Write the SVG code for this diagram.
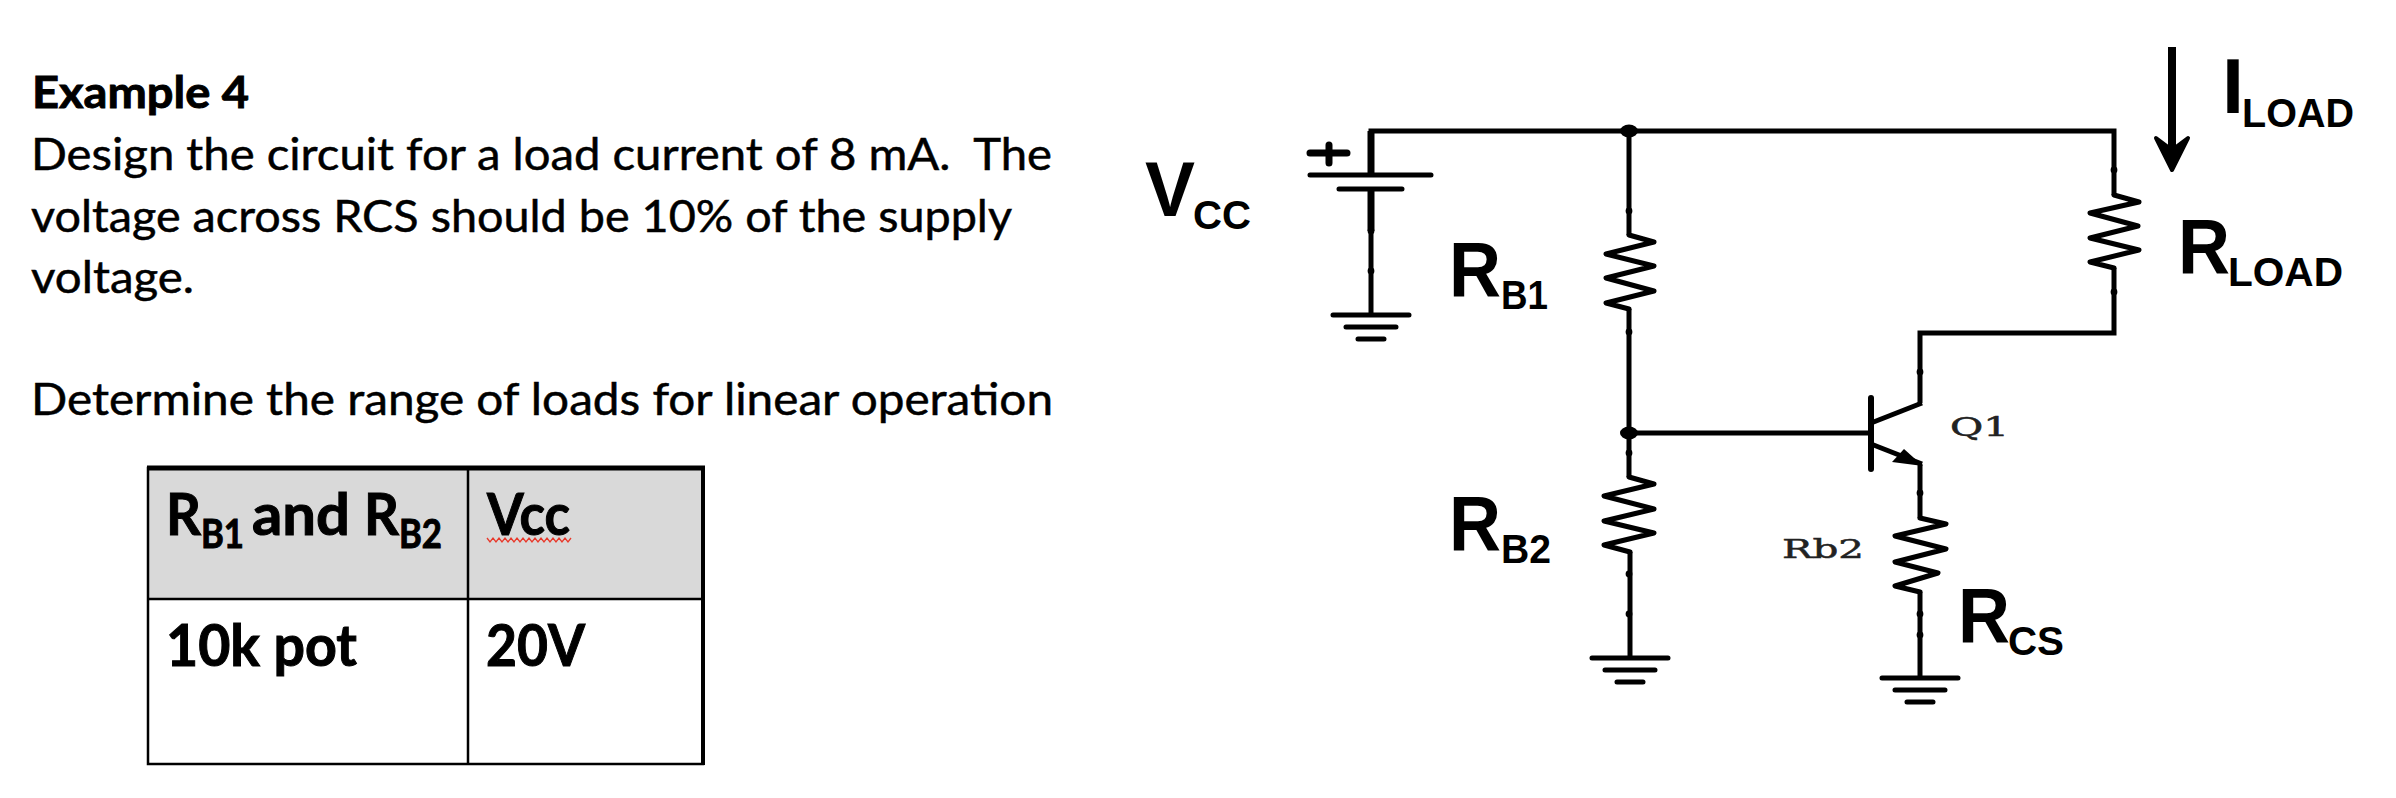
<svg xmlns="http://www.w3.org/2000/svg" width="2396" height="798" viewBox="0 0 2396 798">
<style>
.body{font-family:"Lato","Open Sans",sans-serif;font-size:44px;fill:#000;stroke:#000;stroke-width:.5;white-space:pre}
.bold{font-weight:700;stroke-width:.9}
.cell{font-family:"Lato","Open Sans",sans-serif;font-size:57px;font-weight:700;fill:#000;stroke:#000;stroke-width:1}
.sub{font-size:40px}
.lab{font-family:"Liberation Sans",Arial,sans-serif;font-weight:700;font-size:77px;fill:#000}
.ls{font-size:41px}
.ser{font-family:"DejaVu Serif","Liberation Serif",serif;font-size:26px;fill:#222;stroke:#222;stroke-width:.5}
.w{fill:none;stroke:#000;stroke-width:5;stroke-linejoin:miter}
.g{fill:none;stroke:#000;stroke-width:5;stroke-linecap:round}
.z{fill:none;stroke:#000;stroke-width:5;stroke-linejoin:round;stroke-linecap:round}
.j{fill:#000}
</style>
<defs><circle id="blip" r="3.4" class="j"/><ellipse id="dot" rx="9" ry="6.5" class="j"/>
<g id="gnd"><path class="g" d="M-38 0H38M-25 12H25M-13 24H13"/></g></defs>

<g id="problem-text">
<text class="body bold" x="32" y="108" textLength="217" lengthAdjust="spacingAndGlyphs">Example 4</text>
<text class="body" x="31" y="170" textLength="1021" lengthAdjust="spacingAndGlyphs">Design the circuit for a load current of 8 mA.  The</text>
<text class="body" x="31" y="232" textLength="981" lengthAdjust="spacingAndGlyphs">voltage across RCS should be 10% of the supply</text>
<text class="body" x="31" y="293" textLength="163" lengthAdjust="spacingAndGlyphs">voltage.</text>
<text class="body" x="31" y="415" textLength="1022" lengthAdjust="spacingAndGlyphs">Determine the range of loads for linear operation</text>
</g>

<g id="table">
<rect x="148" y="468" width="555" height="131" fill="#d9d9d9"/>
<rect x="148" y="468" width="555" height="296" fill="none" stroke="#000" stroke-width="2.5"/>
<path d="M147 468H705" stroke="#000" stroke-width="5"/>
<path d="M703 466V765" stroke="#000" stroke-width="4"/>
<path d="M468 468V764M148 599H703" stroke="#000" stroke-width="2.5" fill="none"/>
<text class="cell" x="166" y="535" textLength="35" lengthAdjust="spacingAndGlyphs">R</text>
<text class="cell sub" x="201" y="548" textLength="43" lengthAdjust="spacingAndGlyphs">B1</text>
<text class="cell" x="252" y="535" textLength="98" lengthAdjust="spacingAndGlyphs">and</text>
<text class="cell" x="364" y="535" textLength="35" lengthAdjust="spacingAndGlyphs">R</text>
<text class="cell sub" x="399" y="548" textLength="43" lengthAdjust="spacingAndGlyphs">B2</text>
<text class="cell" x="487" y="535" textLength="83" lengthAdjust="spacingAndGlyphs">Vcc</text>
<path d="M487 538l3 4 3-4 3 4 3-4 3 4 3-4 3 4 3-4 3 4 3-4 3 4 3-4 3 4 3-4 3 4 3-4 3 4 3-4 3 4 3-4 3 4 3-4 3 4 3-4 3 4 3-4 3 4 3-4" fill="none" stroke="#e8392b" stroke-width="1.3"/>
<text class="cell" x="166" y="666" textLength="191" lengthAdjust="spacingAndGlyphs">10k pot</text>
<text class="cell" x="486" y="666" textLength="99" lengthAdjust="spacingAndGlyphs">20V</text>
</g>

<g id="connectors">
<path class="w" d="M1371 175V131H2114V195"/>
<path class="w" d="M1371 189V315"/>
<path class="w" d="M1629 131V235"/>
<path class="w" d="M1629 309V477"/>
<path class="w" d="M1630 552V658"/>
<path class="w" d="M1629 433H1871"/>
<path class="w" d="M2114 268V333H1920V403"/>
<path class="w" d="M1920 464V518"/>
<path class="w" d="M1920 592V678"/>
<use href="#blip" x="1371" y="231"/><use href="#blip" x="1371" y="271"/>
<use href="#blip" x="1629" y="211"/><use href="#blip" x="1629" y="332"/>
<use href="#blip" x="1629" y="453"/><use href="#blip" x="1629" y="574"/><use href="#blip" x="1629" y="614"/>
<use href="#blip" x="2114" y="170"/><use href="#blip" x="2114" y="292"/>
<use href="#blip" x="1920" y="372"/><use href="#blip" x="1920" y="493"/>
<use href="#blip" x="1920" y="614"/><use href="#blip" x="1920" y="635"/>
<use href="#dot" x="1629" y="131"/><use href="#dot" x="1629" y="433"/>
</g>

<g id="battery">
<path d="M1371 131V175" stroke="#000" stroke-width="7"/>
<path d="M1371 189V231" stroke="#000" stroke-width="7"/>
<path class="g" d="M1310 175H1431M1339 189H1402"/>
<path fill="none" stroke="#000" stroke-width="7" stroke-linecap="round" d="M1310 153H1347M1329 145V163"/>
<use href="#gnd" transform="translate(1371 315)"/>
<text class="lab" x="1145" y="216" textLength="50" lengthAdjust="spacingAndGlyphs">V</text>
<text class="lab ls" x="1193" y="229" textLength="58" lengthAdjust="spacingAndGlyphs">CC</text>
</g>

<g id="rb1">
<path class="z" d="M1629 235L1654 242 1606 254 1654 266 1606 278 1654 291 1606 303 1629 309"/>
<text class="lab" x="1449" y="296" textLength="52" lengthAdjust="spacingAndGlyphs">R</text>
<text class="lab ls" x="1501" y="309" textLength="47" lengthAdjust="spacingAndGlyphs">B1</text>
</g>

<g id="rb2">
<path class="z" d="M1629 477L1654 484 1604 496 1654 509 1604 521 1654 533 1604 545 1630 552"/>
<use href="#gnd" transform="translate(1630 658)"/>
<text class="lab" x="1449" y="550" textLength="52" lengthAdjust="spacingAndGlyphs">R</text>
<text class="lab ls" x="1501" y="563" textLength="50" lengthAdjust="spacingAndGlyphs">B2</text>
</g>

<g id="rload">
<path class="z" d="M2114 195L2139 202 2090 213 2138 226 2090 238 2139 250 2090 262 2114 268"/>
<text class="lab" x="2178" y="273" textLength="52" lengthAdjust="spacingAndGlyphs">R</text>
<text class="lab ls" x="2228" y="286" textLength="115" lengthAdjust="spacingAndGlyphs">LOAD</text>
</g>

<g id="iload">
<path d="M2172 47V150" stroke="#000" stroke-width="8" fill="none"/>
<path d="M2156 138L2172 170 2188 138 2172 150Z" fill="#000" stroke="#000" stroke-width="4" stroke-linejoin="round"/>
<text class="lab" x="2222" y="113" textLength="22" lengthAdjust="spacingAndGlyphs">I</text>
<text class="lab ls" x="2242" y="127" textLength="112" lengthAdjust="spacingAndGlyphs">LOAD</text>
</g>

<g id="q1">
<path d="M1871 398V469" stroke="#000" stroke-width="6" stroke-linecap="round"/>
<path class="w" d="M1871 423L1922 403"/>
<path class="w" d="M1871 444L1922 464"/>
<path d="M1904 449L1892 462 1923 466Z" fill="#000"/>
<text class="ser" x="1950" y="436" textLength="59" lengthAdjust="spacingAndGlyphs">Q1</text>
</g>

<g id="rcs">
<path class="z" d="M1920 518L1946 524 1895 536 1946 549 1895 562 1938 573 1895 586 1920 592"/>
<text class="ser" x="1782" y="558" textLength="82" lengthAdjust="spacingAndGlyphs">Rb2</text>
<use href="#gnd" transform="translate(1920 678)"/>
<text class="lab" x="1958" y="642" textLength="52" lengthAdjust="spacingAndGlyphs">R</text>
<text class="lab ls" x="2008" y="655" textLength="56" lengthAdjust="spacingAndGlyphs">CS</text>
</g>
</svg>
